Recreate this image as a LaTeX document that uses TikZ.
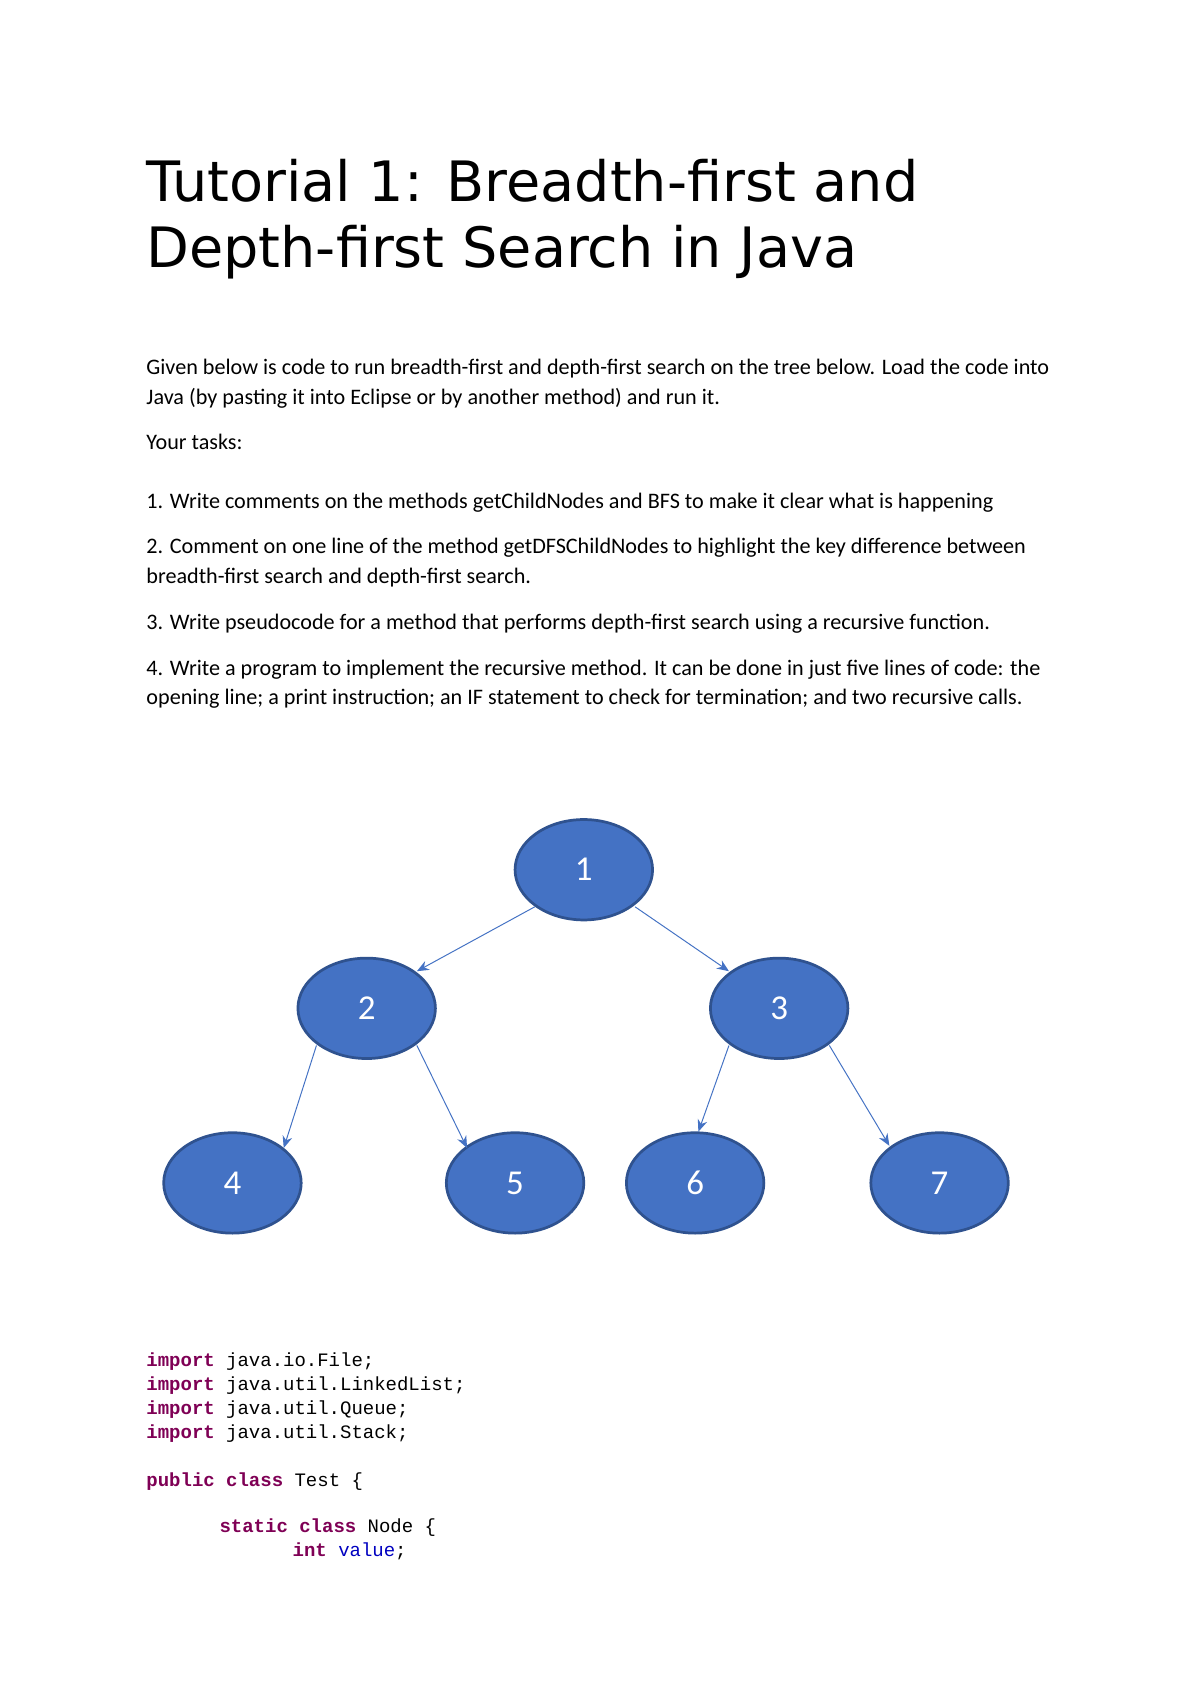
\documentclass[tikz,border=0pt]{standalone}
\usepackage{fontspec}
\setmainfont{Carlito}
\newfontfamily\titlefont{DejaVu Sans}
\newfontfamily\codefont{Liberation Mono}
\definecolor{nodefill}{HTML}{4472C4}
\definecolor{nodeedge}{HTML}{2F528F}
\definecolor{kw}{HTML}{7F0055}
\definecolor{fld}{HTML}{0000C0}
\begin{document}
\begin{tikzpicture}[x=1pt,y=-1pt,
  tnode/.style={ellipse,draw=nodeedge,line width=2.5pt,fill=nodefill,minimum width=126pt,minimum height=92pt,inner sep=0pt,text=white,font=\fontsize{32}{32}\selectfont},
  txt/.style={anchor=base west,inner sep=0pt,font=\fontsize{20.3}{24}\selectfont},
  ttl/.style={anchor=base west,inner sep=0pt,font=\titlefont\fontsize{51}{60}\selectfont},
  code/.style={anchor=base west,inner sep=0pt,font=\codefont\fontsize{17.4}{22}\selectfont},
  edge/.style={draw=nodefill,line width=0.9pt,-{Stealth[length=11pt,width=9pt]}}]
\usetikzlibrary{shapes.geometric,arrows.meta}
\path[use as bounding box,fill=white] (0,0) rectangle (1100,1556);
\node[ttl] (t1) at (134,185) {Tutorial 1: Breadth-first and};
\node[ttl] (t2) at (134,245) {Depth-first Search in Java};
\node[txt] (p1) at (134,343) {Given below is code to run breadth-first and depth-first search on the tree below. Load the code into};
\node[txt] (p2) at (134,371) {Java (by pasting it into Eclipse or by another method) and run it.};
\node[txt] (p3) at (134,412) {Your tasks:};
\node[txt] (p4) at (134,466) {1. Write comments on the methods getChildNodes and BFS to make it clear what is happening};
\node[txt] (p5) at (134,507) {2. Comment on one line of the method getDFSChildNodes to highlight the key difference between};
\node[txt] (p6) at (134,535) {breadth-first search and depth-first search.};
\node[txt] (p7) at (134,577) {3. Write pseudocode for a method that performs depth-first search using a recursive function.};
\node[txt] (p8) at (134,619) {4. Write a program to implement the recursive method. It can be done in just five lines of code: the};
\node[txt] (p9) at (134,646) {opening line; a print instruction; an IF statement to check for termination; and two recursive calls.};
\node[tnode] (n1) at (535,797) {1};
\node[tnode] (n2) at (336,924) {2};
\node[tnode] (n3) at (714,924) {3};
\node[tnode] (n4) at (213,1084) {4};
\node[tnode] (n5) at (472,1084) {5};
\node[tnode] (n6) at (637,1084) {6};
\node[tnode] (n7) at (861,1084) {7};
\coordinate (a1) at (490,831); \coordinate (b1) at (382,890);
\coordinate (a2) at (582,831); \coordinate (b2) at (668,890);
\coordinate (a3) at (290,958); \coordinate (b3) at (260,1052);
\coordinate (a4) at (382,958); \coordinate (b4) at (428,1052);
\coordinate (a5) at (668,958); \coordinate (b5) at (640,1037);
\coordinate (a6) at (760,958); \coordinate (b6) at (815,1050);
\draw[edge] (a1) -- (b1);
\draw[edge] (a2) -- (b2);
\draw[edge] (a3) -- (b3);
\draw[edge] (a4) -- (b4);
\draw[edge] (a5) -- (b5);
\draw[edge] (a6) -- (b6);
\node[code] (c1) at (134,1252) {\textcolor{kw}{\bfseries import} java.io.File;};
\node[code] (c2) at (134,1274) {\textcolor{kw}{\bfseries import} java.util.LinkedList;};
\node[code] (c3) at (134,1296) {\textcolor{kw}{\bfseries import} java.util.Queue;};
\node[code] (c4) at (134,1318) {\textcolor{kw}{\bfseries import} java.util.Stack;};
\node[code] (c5) at (134,1362) {\textcolor{kw}{\bfseries public} \textcolor{kw}{\bfseries class} Test \{};
\node[code] (c6) at (201,1404) {\textcolor{kw}{\bfseries static} \textcolor{kw}{\bfseries class} Node \{};
\node[code] (c7) at (268,1426) {\textcolor{kw}{\bfseries int} \textcolor{fld}{value};};
\end{tikzpicture}
\end{document}
